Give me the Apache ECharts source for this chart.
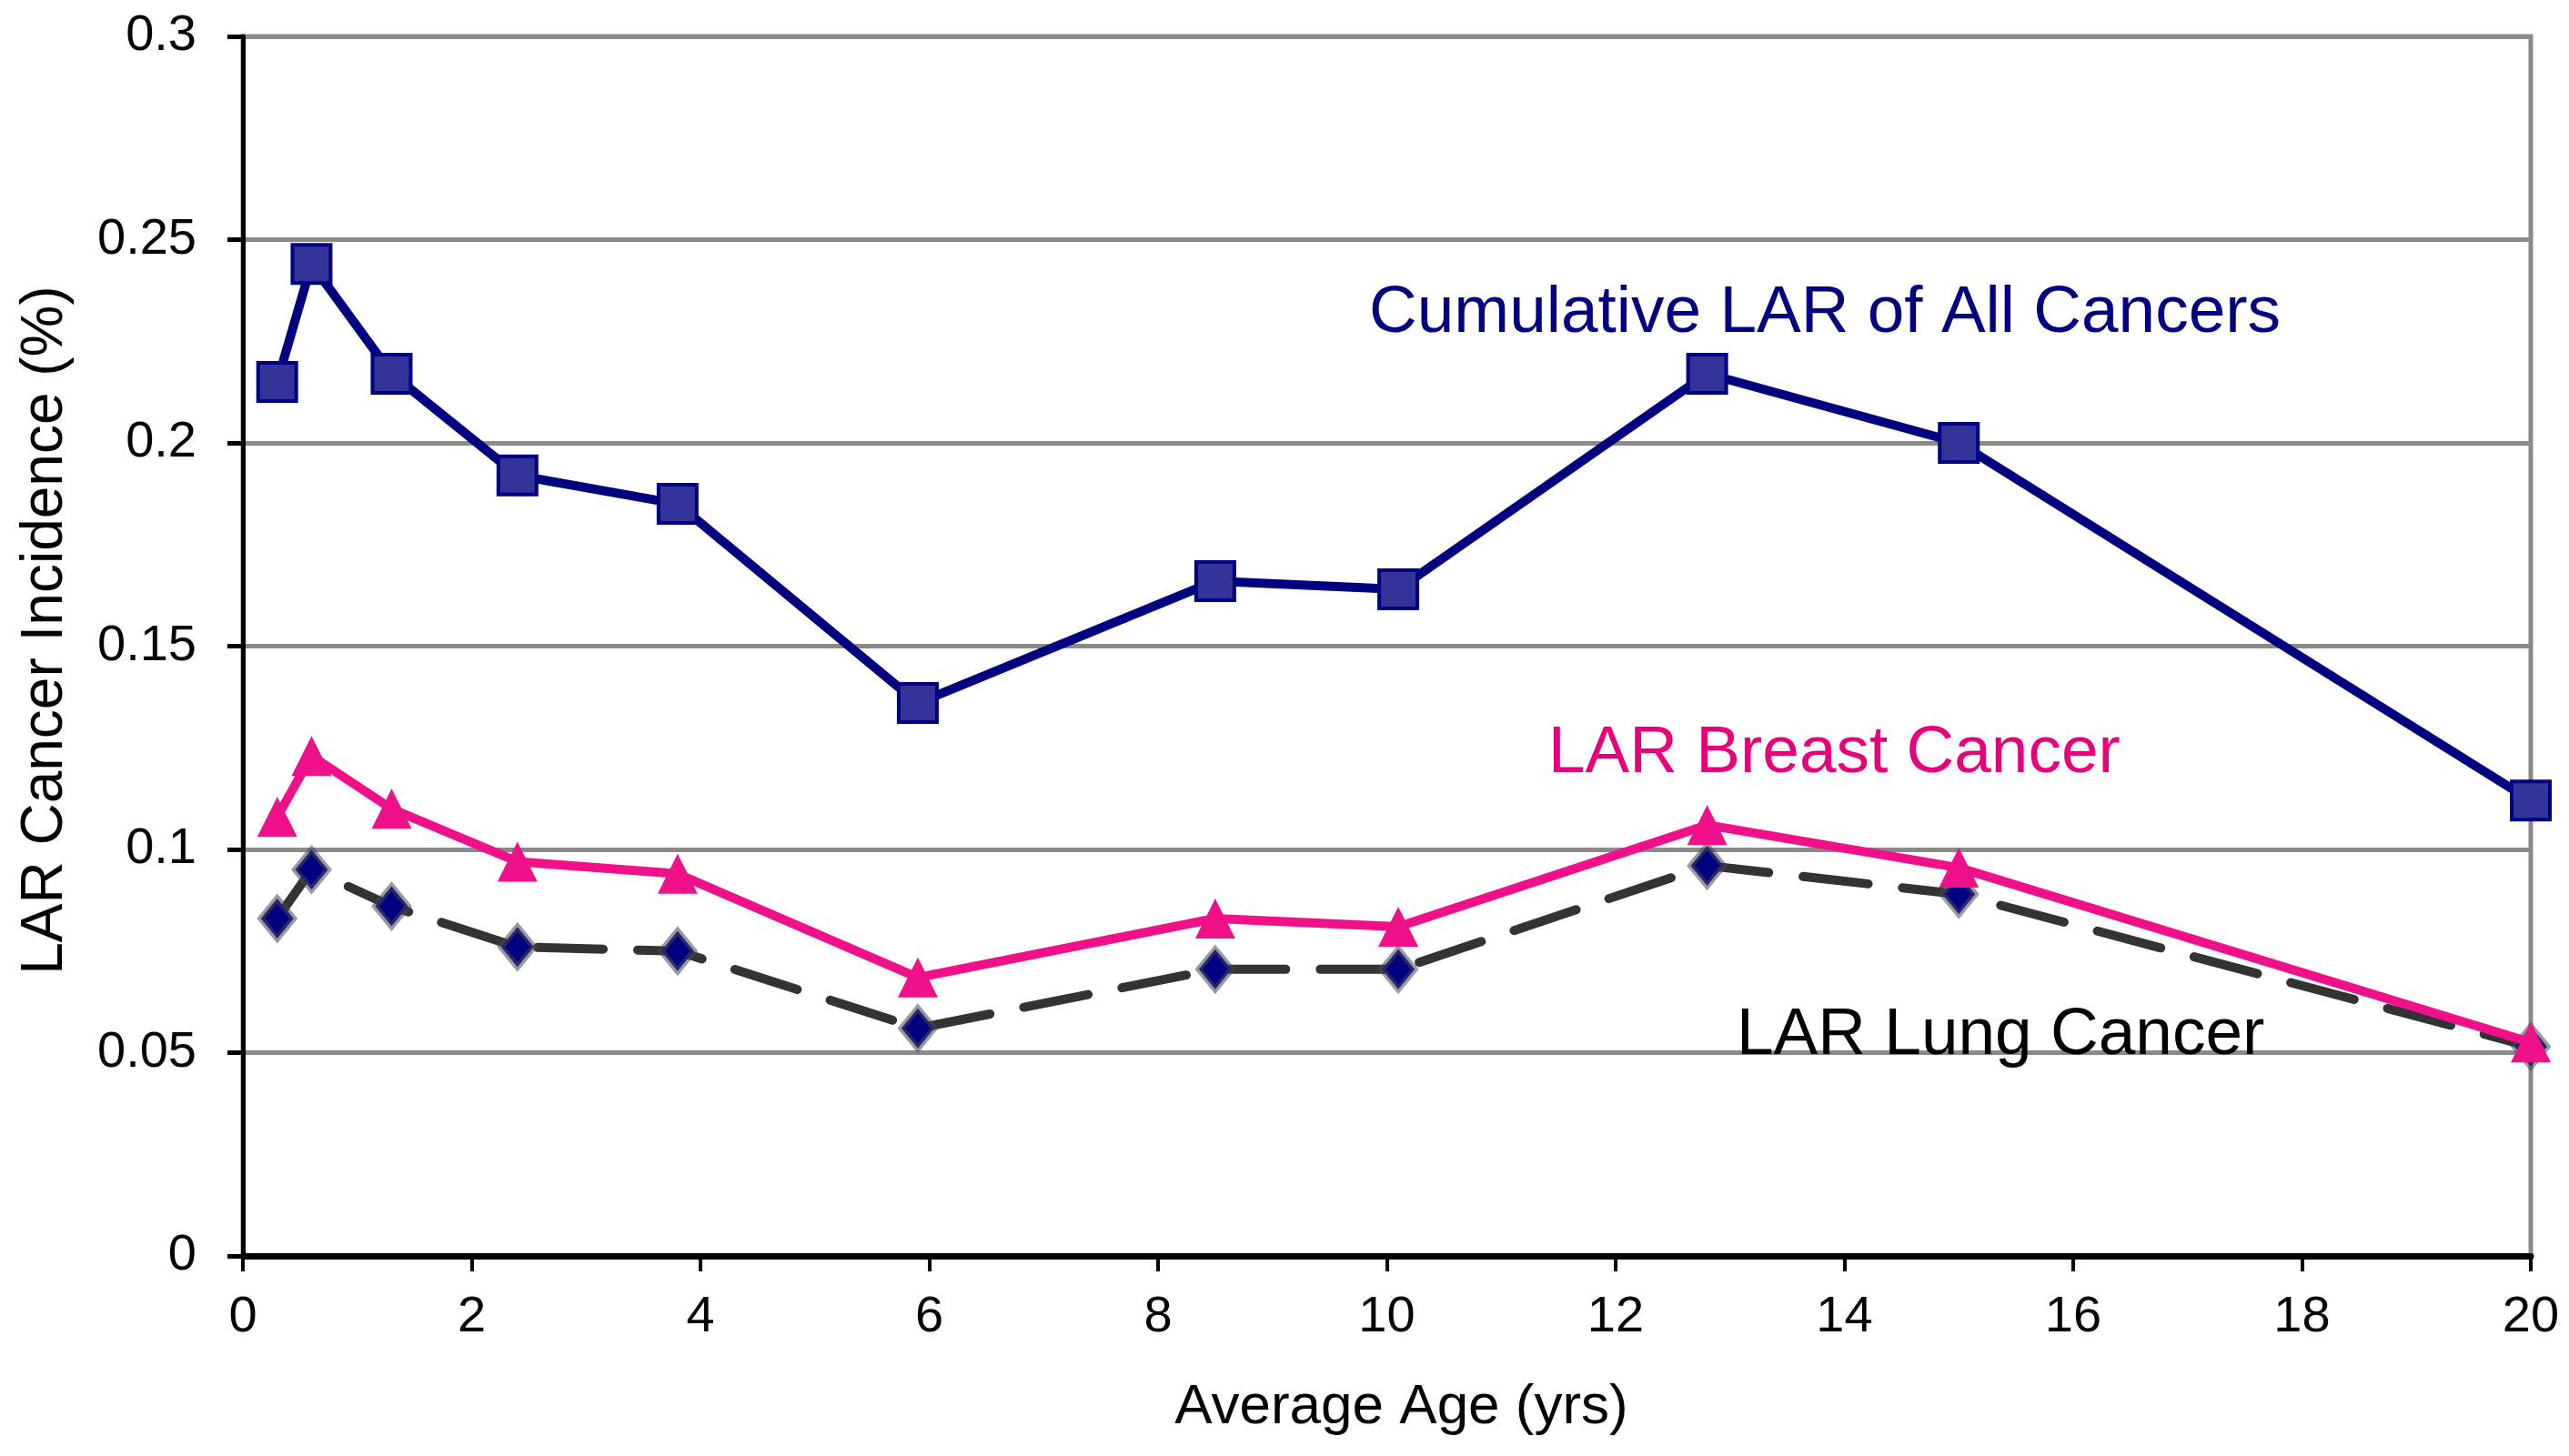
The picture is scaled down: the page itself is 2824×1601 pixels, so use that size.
<!DOCTYPE html>
<html>
<head>
<meta charset="utf-8">
<script src="https://cdn.jsdelivr.net/npm/echarts@6/dist/echarts.min.js"></script>
<style>
html,body{margin:0;padding:0;background:#fff;}
#chart{width:2824px;height:1601px;}
</style>
</head>
<body>
<div id="chart"></div>
<script>
const ages = [0.3, 0.6, 1.3, 2.4, 3.8, 5.9, 8.5, 10.1, 12.8, 15, 20];
const allCancers = [0.215, 0.244, 0.217, 0.192, 0.185, 0.136, 0.166, 0.164, 0.217, 0.200, 0.112];
const breastCancer = [0.108, 0.123, 0.110, 0.097, 0.094, 0.0685, 0.083, 0.081, 0.106, 0.0955, 0.0525];
const lungCancer = [0.083, 0.095, 0.086, 0.076, 0.075, 0.056, 0.0705, 0.0705, 0.096, 0.089, 0.0515];
const xTicks = [0, 2, 4, 6, 8, 10, 12, 14, 16, 18, 20];
const yTicks = ['0', '0.05', '0.1', '0.15', '0.2', '0.25', '0.3'];

const pair = (xs, ys) => xs.map((x, i) => [x, ys[i]]);
const FONT = '"Liberation Sans", Arial, sans-serif';

const chart = echarts.init(document.getElementById('chart'));
chart.setOption({
  animation: false,
  backgroundColor: '#ffffff',
  grid: {
    left: 267, right: 42, top: 40, bottom: 220,
    show: true, borderColor: '#8a8a8a', borderWidth: 5
  },
  xAxis: {
    type: 'value', min: 0, max: 20, interval: 2,
    name: 'Average Age (yrs)', nameLocation: 'middle', nameGap: 136,
    nameTextStyle: { fontFamily: FONT, fontSize: 62, color: '#000', padding: [0, 0, 0, 32] },
    axisLine: { lineStyle: { color: '#000', width: 7 } },
    axisTick: { show: true, inside: false, length: 17, lineStyle: { color: '#000', width: 4 } },
    axisLabel: { margin: 40, fontFamily: FONT, fontSize: 56, color: '#000',
      formatter: v => xTicks.includes(v) ? String(v) : '' },
    splitLine: { show: false }
  },
  yAxis: {
    type: 'value', min: 0, max: 0.3, interval: 0.05,
    axisLine: { show: true, lineStyle: { color: '#000', width: 5 } },
    axisTick: { show: true, inside: false, length: 17, lineStyle: { color: '#000', width: 5 } },
    axisLabel: { margin: 51, fontFamily: FONT, fontSize: 56, color: '#000',
      formatter: (v) => yTicks[Math.round(v / 0.05)] },
    splitLine: { show: true, lineStyle: { color: '#8a8a8a', width: 5 } }
  },
  series: [
    {
      name: 'LAR Lung Cancer', type: 'line', data: pair(ages, lungCancer),
      symbol: 'diamond', symbolSize: [36, 44], z: 2,
      lineStyle: { color: '#333333', width: 10, type: [72, 38], cap: 'round' },
      itemStyle: { color: '#000080', borderColor: 'rgba(70,70,90,0.55)', borderWidth: 7 }
    },
    {
      name: 'LAR Breast Cancer', type: 'line', data: pair(ages, breastCancer),
      symbol: 'triangle', symbolSize: 44, z: 3,
      lineStyle: { color: '#F0108A', width: 10 },
      itemStyle: { color: '#F0108A' }
    },
    {
      name: 'Cumulative LAR of All Cancers', type: 'line', data: pair(ages, allCancers),
      symbol: 'rect', symbolSize: 42, z: 4,
      lineStyle: { color: '#000080', width: 10 },
      itemStyle: { color: '#333399', borderColor: '#000080', borderWidth: 4 }
    }
  ],
  graphic: [
    { type: 'text', x: 50, y: 693, rotation: Math.PI / 2, z: 10,
      style: { text: 'LAR Cancer Incidence (%)', font: '64px ' + FONT, fill: '#000',
        textAlign: 'center', textVerticalAlign: 'middle' } },
    { type: 'text', left: 1505, top: 308, z: 10,
      style: { text: 'Cumulative LAR of All Cancers', font: '73px ' + FONT, fill: '#000080' } },
    { type: 'text', left: 1702, top: 792, z: 10,
      style: { text: 'LAR Breast Cancer', font: '73px ' + FONT, fill: '#E8007A' } },
    { type: 'text', left: 1909, top: 1102, z: 10,
      style: { text: 'LAR Lung Cancer', font: '73px ' + FONT, fill: '#000000' } }
  ]
});
</script>
</body>
</html>
